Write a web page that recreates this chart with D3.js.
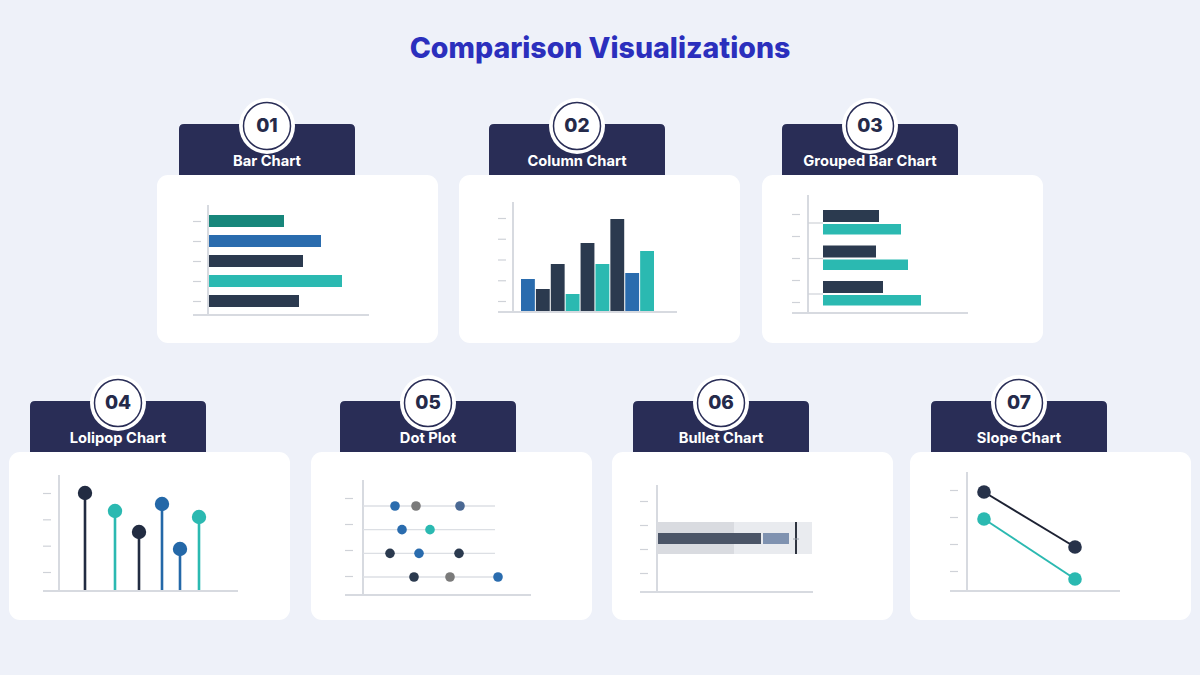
<!DOCTYPE html>
<html><head><meta charset="utf-8">
<script src="https://cdn.jsdelivr.net/npm/d3@7"></script>
<style>html,body{margin:0;padding:0;background:#eef1f9;} svg{display:block}</style>
</head><body><svg id="c" width="1200" height="675"></svg>
<script>
// ---------- data ----------
const titleText = "Comparison Visualizations";
const cardNumbers = ["01","02","03","04","05","06","07"];
const cardTitles = ["Bar Chart","Column Chart","Grouped Bar Chart","Lolipop Chart","Dot Plot","Bullet Chart","Slope Chart"];

// 01 Bar chart
const barCategories = ["A","B","C","D","E"];
const barValues = [75,112,94,133,90];
const barSeries = ["tealDark","blue","dark","teal","dark"];

// 02 Column chart
const colCategories = ["A","B","C","D","E","F","G","H","I"];
const colValues = [32,22,47,17,68,47,92,38,60];
const colSeries = ["blue","dark","dark","teal","dark","teal","dark","blue","teal"];

// 03 Grouped bar chart
const groupCategories = ["G1","G2","G3"];
const groupSeriesA = [56,53,60];
const groupSeriesB = [78,85,98];

// 04 Lollipop chart
const lolX = [26,56,80,103,121,140];
const lolValues = [97,79,58,86,41,73];
const lolSeries = ["dark","teal","dark","blue","blue","teal"];

// 05 Dot plot
const dotRows = ["R1","R2","R3","R4"];
const dotRowIndex = [0,0,0,1,1,2,2,2,3,3,3];
const dotValues = [32,53,97,39,67,27,56,96,51,87,135];
const dotSeries = ["blue","gray","slate","blue","teal","dark","blue","dark","dark","gray","blue"];

// 06 Bullet chart
const bulletRanges = [77,155];
const bulletMeasure = 104;
const bulletComparative = 132;
const bulletTarget = 139;

// 07 Slope chart
const slopePeriods = ["Before","After"];
const slopeSeriesA = [99,44];
const slopeSeriesB = [72,12];

// ---------- styles / layout ----------
const C = {
  dark:"#2b3a4f", teal:"#2bb9b1", tealDark:"#17867b", blue:"#2a6cae",
  gray:"#7a7a7a", slate:"#4a6893", navy:"#292d56", axis:"#d7dae0", tick:"#cfd2d8"
};
const cards = [
  {x:157,y:175,t:22},{x:459,y:175,t:30},{x:762,y:175,t:20},
  {x:9,y:452,t:21},{x:311,y:452,t:29},{x:612,y:452,t:21},{x:910,y:452,t:21}
];
const CW = 281, CH = 168;

const svg = d3.select("#c");
svg.append("rect").attr("width",1200).attr("height",675).attr("fill","#eef1f9");

svg.append("text").attr("x",600).attr("y",50).attr("text-anchor","middle")
  .attr("dominant-baseline","middle")
  .attr("font-family","Inter, 'Open Sans', sans-serif").attr("font-weight",800)
  .attr("font-size",28.5).attr("fill","#2b2fbd").text(titleText);

function tabPath(x,y,w,h,r){
  return `M${x},${y+h}V${y+r}Q${x},${y} ${x+r},${y}H${x+w-r}Q${x+w},${y} ${x+w},${y+r}V${y+h}Z`;
}

const groups = cards.map((c,i)=>{
  const tx = c.x+c.t, tw = 176, ty = c.y-51;
  svg.append("path").attr("d",tabPath(tx,ty,tw,56,5)).attr("fill",C.navy);
  svg.append("rect").attr("x",c.x).attr("y",c.y).attr("width",CW).attr("height",CH)
    .attr("rx",11).attr("fill","#ffffff");
  const cx = tx+tw/2;
  svg.append("circle").attr("cx",cx).attr("cy",ty+2).attr("r",28).attr("fill","#ffffff");
  svg.append("circle").attr("cx",cx).attr("cy",ty+2).attr("r",23.5).attr("fill","#ffffff")
    .attr("stroke",C.navy).attr("stroke-width",1.5);
  svg.append("text").attr("x",cx).attr("y",ty+3).attr("text-anchor","middle")
    .attr("dominant-baseline","middle")
    .attr("font-family","Inter, sans-serif").attr("font-weight",800).attr("font-size",19)
    .attr("fill","#252a4a").text(cardNumbers[i]);
  svg.append("text").attr("x",cx).attr("y",c.y-13).attr("text-anchor","middle")
    .attr("dominant-baseline","middle")
    .attr("font-family","Inter, sans-serif").attr("font-weight",700).attr("font-size",14.7)
    .attr("fill","#ffffff").text(cardTitles[i]);
  return svg.append("g").attr("transform",`translate(${c.x},${c.y})`);
});

function frame(g,o){
  const ts = d3.scalePoint().domain(d3.range(o.nt)).range([o.t1,o.t2]);
  g.append("g").attr("transform",`translate(${o.tx},0)`)
    .call(d3.axisLeft(ts).tickSize(8).tickFormat(""))
    .call(s=>s.select(".domain").remove())
    .selectAll("line").attr("stroke",C.tick).attr("stroke-width",1.2);
  g.append("line").attr("x1",o.ax).attr("x2",o.ax).attr("y1",o.top).attr("y2",o.base)
    .attr("stroke",C.axis).attr("stroke-width",2);
  g.append("line").attr("x1",o.bx1).attr("x2",o.bx2).attr("y1",o.base).attr("y2",o.base)
    .attr("stroke",C.axis).attr("stroke-width",2);
}

// ----- 01 Bar chart -----
{
  const g = groups[0];
  const y = d3.scaleBand().domain(barCategories).range([36,136]).paddingInner(0.4).paddingOuter(0.2);
  const x = d3.scaleLinear().domain([0,160]).range([52,212]);
  frame(g,{ax:51,top:30,base:140,bx1:36,bx2:212,tx:44,t1:46,t2:126,nt:5});
  g.selectAll(".b").data(barValues).join("rect")
    .attr("x",x(0)).attr("y",(d,i)=>y(barCategories[i]))
    .attr("width",d=>x(d)-x(0)).attr("height",y.bandwidth())
    .attr("fill",(d,i)=>C[barSeries[i]]);
}

// ----- 02 Column chart -----
{
  const g = groups[1];
  const x = d3.scaleBand().domain(colCategories).range([62,195]).paddingInner(0.07);
  const y = d3.scaleLinear().domain([0,100]).range([136,36]);
  frame(g,{ax:54,top:27,base:137,bx1:39,bx2:218,tx:47,t1:43,t2:126,nt:5});
  g.selectAll(".c").data(colValues).join("rect")
    .attr("x",(d,i)=>x(colCategories[i])).attr("y",d=>y(d))
    .attr("width",x.bandwidth()).attr("height",d=>y(0)-y(d))
    .attr("fill",(d,i)=>C[colSeries[i]]);
}

// ----- 03 Grouped bar chart -----
{
  const g = groups[2];
  const y = d3.scalePoint().domain(groupCategories).range([48,119]);
  const x = d3.scaleLinear().domain([0,100]).range([61,161]);
  frame(g,{ax:46,top:20,base:138,bx1:30,bx2:206,tx:38,t1:39,t2:127,nt:5});
  g.selectAll(".gl").data(groupCategories).join("line")
    .attr("x1",46).attr("x2",x(0)).attr("y1",d=>y(d)).attr("y2",d=>y(d))
    .attr("stroke",C.tick).attr("stroke-width",1.2);
  g.selectAll(".ga").data(groupSeriesA).join("rect")
    .attr("x",x(0)).attr("y",(d,i)=>y(groupCategories[i])-13)
    .attr("width",d=>x(d)-x(0)).attr("height",12).attr("fill",C.dark);
  g.selectAll(".gb").data(groupSeriesB).join("rect")
    .attr("x",x(0)).attr("y",(d,i)=>y(groupCategories[i])+1)
    .attr("width",d=>x(d)-x(0)).attr("height",10.5).attr("fill",C.teal);
}

// ----- 04 Lollipop chart -----
{
  const g = groups[3];
  const x = d3.scaleLinear().domain([0,180]).range([50,230]);
  const y = d3.scaleLinear().domain([0,100]).range([138,38]);
  frame(g,{ax:50,top:23,base:139,bx1:34,bx2:229,tx:42,t1:41,t2:120,nt:4});
  const lolColor = {dark:"#222c42",teal:C.teal,blue:"#2468a8"};
  g.selectAll(".ls").data(lolValues).join("line")
    .attr("x1",(d,i)=>x(lolX[i])).attr("x2",(d,i)=>x(lolX[i]))
    .attr("y1",y(0)).attr("y2",d=>y(d))
    .attr("stroke",(d,i)=>lolColor[lolSeries[i]]).attr("stroke-width",2.6);
  g.selectAll(".lc").data(lolValues).join("circle")
    .attr("cx",(d,i)=>x(lolX[i])).attr("cy",d=>y(d)).attr("r",7.2)
    .attr("fill",(d,i)=>lolColor[lolSeries[i]]);
}

// ----- 05 Dot plot -----
{
  const g = groups[4];
  const y = d3.scalePoint().domain(dotRows).range([54,125]);
  const x = d3.scaleLinear().domain([0,150]).range([52,202]);
  frame(g,{ax:52,top:28,base:143,bx1:34,bx2:220,tx:42,t1:46,t2:124,nt:4});
  g.selectAll(".dl").data(dotRows).join("line")
    .attr("x1",x(0)).attr("x2",x(132)).attr("y1",d=>y(d)).attr("y2",d=>y(d))
    .attr("stroke","#dcdfe4").attr("stroke-width",1.3);
  g.selectAll(".dd").data(dotValues).join("circle")
    .attr("cx",d=>x(d)).attr("cy",(d,i)=>y(dotRows[dotRowIndex[i]])).attr("r",4.8)
    .attr("fill",(d,i)=>C[dotSeries[i]]);
}

// ----- 06 Bullet chart -----
{
  const g = groups[5];
  const x = d3.scaleLinear().domain([0,160]).range([45,205]);
  frame(g,{ax:45,top:33,base:140,bx1:28,bx2:201,tx:36,t1:49,t2:121,nt:4});
  const rangeFill = ["#d9dbe0","#e9ebef"];
  g.selectAll(".br").data(bulletRanges).join("rect")
    .attr("x",(d,i)=>x(i?bulletRanges[i-1]:0)).attr("y",70)
    .attr("width",(d,i)=>x(d)-x(i?bulletRanges[i-1]:0)).attr("height",32)
    .attr("fill",(d,i)=>rangeFill[i]);
  g.append("rect").attr("x",x(1)).attr("y",81).attr("width",x(bulletMeasure)-x(1)).attr("height",11)
    .attr("fill","#4b5567");
  g.append("rect").attr("x",x(bulletMeasure+2)).attr("y",81)
    .attr("width",x(bulletComparative)-x(bulletMeasure+2)).attr("height",11).attr("fill","#7f92b0");
  g.append("line").attr("x1",x(bulletTarget)).attr("x2",x(bulletTarget)).attr("y1",70).attr("y2",102)
    .attr("stroke","#2f3440").attr("stroke-width",2);
  g.append("line").attr("x1",x(bulletTarget)-3).attr("x2",x(bulletTarget)+3).attr("y1",87).attr("y2",87)
    .attr("stroke","#9aa0aa").attr("stroke-width",1);
}

// ----- 07 Slope chart -----
{
  const g = groups[6];
  const x = d3.scalePoint().domain(slopePeriods).range([74,165]);
  const y = d3.scaleLinear().domain([0,100]).range([139,39]);
  frame(g,{ax:57,top:20,base:139,bx1:40,bx2:210,tx:48,t1:38,t2:119,nt:4});
  const series = [{v:slopeSeriesA,line:"#1d2233",dot:"#27324a"},{v:slopeSeriesB,line:C.teal,dot:C.teal}];
  const line = d3.line().x((d,i)=>x(slopePeriods[i])).y(d=>y(d));
  series.forEach(s=>{
    g.append("path").attr("d",line(s.v)).attr("fill","none").attr("stroke",s.line).attr("stroke-width",2);
    g.selectAll(null).data(s.v).join("circle")
      .attr("cx",(d,i)=>x(slopePeriods[i])).attr("cy",d=>y(d)).attr("r",6.8).attr("fill",s.dot);
  });
}
</script></body></html>
